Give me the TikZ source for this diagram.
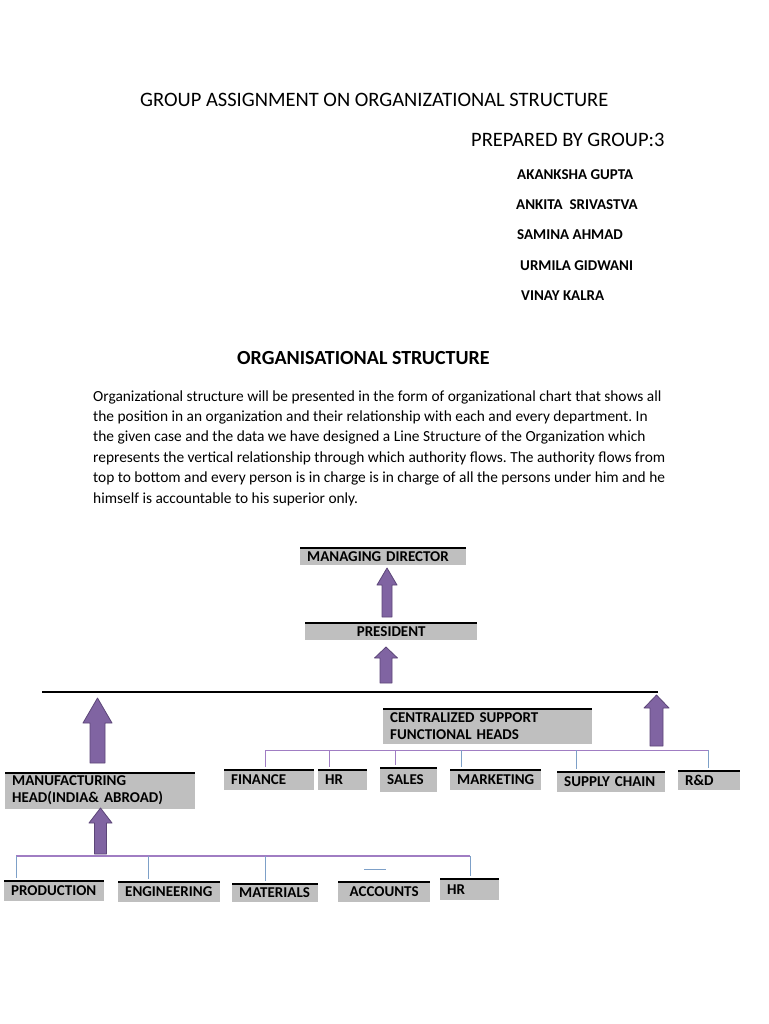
\documentclass[tikz,border=0pt]{standalone}
\usepackage{fontspec}
\setmainfont{Carlito}
\frenchspacing
\definecolor{boxgray}{RGB}{191,191,191}
\definecolor{arrowfill}{RGB}{128,100,162}
\definecolor{arrowedge}{RGB}{92,70,120}
\definecolor{linepurple}{RGB}{160,125,195}
\definecolor{lineblue}{RGB}{125,160,200}
\newcommand\boxfont{\fontsize{15}{17}\selectfont\bfseries}
% block arrow pointing up: x, bottom, top, shaft half width, head half width, head length
\newcommand\blockup[6]{%
  \filldraw[arrowfill, draw=arrowedge, line width=0.8pt, line join=round]
    (#1-#4,#2) -- (#1-#4,#3+#6) -- (#1-#5,#3+#6) -- (#1,#3)
    -- (#1+#5,#3+#6) -- (#1+#4,#3+#6) -- (#1+#4,#2) -- cycle;}
\tikzset{
  titletext/.style={anchor=base west, inner sep=0pt, font=\fontsize{20.5}{24}\selectfont},
  headtext/.style={anchor=base west, inner sep=0pt, font=\fontsize{20}{24}\selectfont\bfseries},
  nametext/.style={anchor=base west, inner sep=0pt, font=\fontsize{15}{18}\selectfont\bfseries},
  bodytext/.style={anchor=base west, inner sep=0pt, font=\fontsize{15.4}{20.4}\selectfont},
  orgbox/.style={fill=boxgray, anchor=north west, inner xsep=7pt, inner ysep=0pt,
    align=left, text width=#1, font=\boxfont,
    path picture={\draw[line width=3pt] (path picture bounding box.north west)
      -- (path picture bounding box.north east);}},
  busline/.style={linepurple, line width=1pt},
  dropline/.style={line width=1pt, shorten >=2pt},
}
\begin{document}
\begin{tikzpicture}[x=1pt, y=-1pt]
\useasboundingbox (0,0) rectangle (768,1024);
\fill[white] (0,0) rectangle (768,1024);

% title block
\node[titletext] (title) at (140,106.6) {GROUP ASSIGNMENT ON ORGANIZATIONAL STRUCTURE};
\node[titletext] (prep) at (471,146.6) {PREPARED BY GROUP:3};
\foreach \nm/\nx [count=\i] in {AKANKSHA GUPTA/517, ANKITA\ \ SRIVASTVA/516,
    SAMINA AHMAD/517, URMILA GIDWANI/520, VINAY KALRA/521}
  \node[nametext] (name\i) at (\nx,{180+30*(\i-1)}) {\nm};

\node[headtext] (head) at (237,364.4) {ORGANISATIONAL STRUCTURE};
\foreach \ln [count=\i] in {
    {Organizational structure will be presented in the form of organizational chart that shows all},
    {the position in an organization and their relationship with each and every department. In},
    {the given case and the data we have designed a Line Structure of the Organization which},
    {represents the vertical relationship through which authority flows. The authority flows from},
    {top to bottom and every person is in charge is in charge of all the persons under him and he},
    {himself is accountable to his superior only.}}
  \node[bodytext] (par\i) at (93,{401+20.4*(\i-1)}) {\ln};

% chart
\node[orgbox=152pt, minimum height=18pt] (md) at (300,547) {MANAGING DIRECTOR};
\node[orgbox=158pt, minimum height=18pt, align=center] (pres) at (305,622) {PRESIDENT};
\node[orgbox=176pt, minimum height=37pt] (mfg) at (5,772) {MANUFACTURING\\HEAD(INDIA\& ABROAD)};
\node[orgbox=195pt, minimum height=36pt] (csf) at (383,708) {CENTRALIZED SUPPORT\\FUNCTIONAL HEADS};

\node[orgbox=76pt, minimum height=21pt] (fin) at (224,769) {FINANCE};
\node[orgbox=35pt, minimum height=21pt] (hrc) at (318,769) {HR};
\node[orgbox=43pt, minimum height=25pt] (sales) at (380,767) {SALES};
\node[orgbox=77pt, minimum height=21pt] (mkt) at (450,769) {MARKETING};
\node[orgbox=94pt, minimum height=21pt] (scm) at (557,771) {SUPPLY CHAIN};
\node[orgbox=48pt, minimum height=20pt] (rnd) at (678,770) {R\&D};

\node[orgbox=86pt, minimum height=21pt] (prod) at (4,880) {PRODUCTION};
\node[orgbox=88pt, minimum height=21pt] (eng) at (118,881) {ENGINEERING};
\node[orgbox=72pt, minimum height=19pt] (mat) at (232,883) {MATERIALS};
\node[orgbox=78pt, minimum height=21pt, align=center] (acc) at (338,881) {ACCOUNTS};
\node[orgbox=45pt, minimum height=22pt] (hrm) at (440,878) {HR};

% authority arrows
\blockup{387}{617}{568}{5}{10}{17}
\blockup{386}{683}{647}{6}{11.5}{11}
\blockup{97.5}{763}{698}{7.5}{14.5}{25}
\blockup{100.5}{854}{808}{6}{11.5}{15}
\blockup{656.5}{746}{695}{6.5}{12.5}{13}

% line of authority
\draw[line width=1.2pt] (42,692) coordinate (spanL) -- (658,692) coordinate (spanR);

% support functions
\draw[busline] (265,750) coordinate (busL) -- (708,750) coordinate (busR);
\foreach \x/\n/\c in {265/fin/linepurple, 329/hrc/linepurple, 395/sales/linepurple,
    461/mkt/lineblue, 576/scm/lineblue, 708/rnd/lineblue}
  \draw[dropline, \c] (\x,750) -- (\x,0 |- \n.north);

% manufacturing departments
\draw[busline, line width=1.2pt] (16,856) coordinate (mbusL) -- (470,856) coordinate (mbusR);
\foreach \x/\n in {16/prod, 148/eng, 265/mat, 470/hrm}
  \draw[dropline, lineblue] (\x,856) -- (\x,0 |- \n.north);
\draw[lineblue, line width=1pt] (364,869) -- (386,869);
\end{tikzpicture}
\end{document}
